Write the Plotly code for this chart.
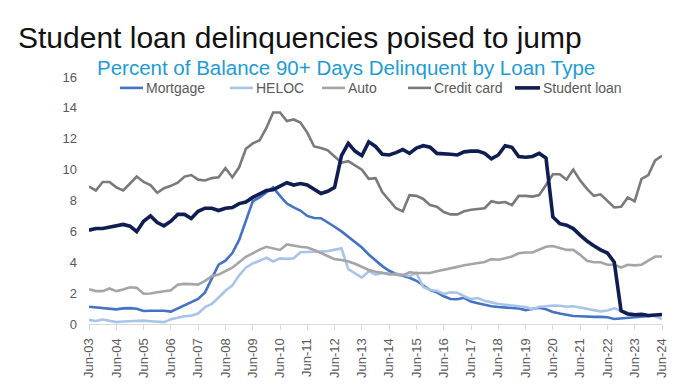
import pandas as pd
import plotly.graph_objects as go

dates = pd.date_range("2003-06-01", "2024-06-01", freq="3MS")

mortgage = [1.12, 1.07, 1.01, 0.97, 0.95, 1.01, 1.03, 0.99, 0.84, 0.86, 0.88, 0.86,
            0.80, 1.00, 1.22, 1.43, 1.63, 2.05, 2.90, 3.85, 4.10, 4.60, 5.45, 6.70,
            7.95, 8.20, 8.50, 8.85, 8.30, 7.80, 7.55, 7.35, 7.00, 6.87, 6.85, 6.60,
            6.30, 6.00, 5.65, 5.35, 4.95, 4.50, 4.10, 3.75, 3.45, 3.25, 3.12, 3.00,
            2.80, 2.50, 2.20, 2.05, 1.80, 1.62, 1.60, 1.70, 1.45, 1.35, 1.25, 1.15,
            1.10, 1.06, 1.05, 1.00, 0.90, 1.00, 1.05, 0.95, 0.78, 0.68, 0.58, 0.52,
            0.50, 0.46, 0.46, 0.46, 0.44, 0.32, 0.36, 0.38, 0.40, 0.44, 0.48, 0.52,
            0.58]
heloc = [0.27, 0.20, 0.29, 0.20, 0.12, 0.16, 0.18, 0.20, 0.22, 0.18, 0.14, 0.12,
         0.31, 0.42, 0.50, 0.54, 0.68, 1.10, 1.30, 1.72, 2.15, 2.50, 3.15, 3.65,
         3.92, 4.10, 4.30, 4.05, 4.25, 4.22, 4.26, 4.65, 4.68, 4.70, 4.70, 4.72,
         4.80, 4.90, 3.55, 3.30, 3.00, 3.42, 3.20, 3.30, 3.20, 3.25, 3.20, 3.10,
         3.30, 2.40, 2.20, 2.15, 1.95, 2.05, 2.02, 1.80, 1.62, 1.68, 1.50, 1.40,
         1.30, 1.25, 1.20, 1.18, 1.10, 0.95, 1.12, 1.15, 1.20, 1.18, 1.12, 1.15,
         1.08, 1.00, 0.90, 0.82, 0.88, 1.02, 0.88, 0.72, 0.65, 0.60, 0.55, 0.50,
         0.32]
auto = [2.25, 2.13, 2.13, 2.30, 2.13, 2.23, 2.38, 2.34, 1.96, 1.98, 2.06, 2.13,
        2.19, 2.55, 2.60, 2.58, 2.55, 2.80, 3.10, 3.20, 3.40, 3.65, 4.00, 4.35,
        4.58, 4.82, 5.00, 4.90, 4.80, 5.15, 5.05, 5.00, 4.95, 4.80, 4.60, 4.40,
        4.20, 4.15, 4.05, 3.90, 3.70, 3.50, 3.38, 3.30, 3.25, 3.20, 3.15, 3.35,
        3.30, 3.30, 3.30, 3.42, 3.50, 3.62, 3.70, 3.80, 3.88, 3.93, 4.02, 4.20,
        4.16, 4.26, 4.37, 4.58, 4.63, 4.63, 4.80, 5.00, 5.05, 4.90, 4.80, 4.80,
        4.48, 4.10, 4.00, 4.00, 3.84, 3.84, 3.66, 3.84, 3.80, 3.84, 4.10, 4.37,
        4.37]
credit_card = [8.90, 8.65, 9.20, 9.20, 8.85, 8.65, 9.10, 9.55, 9.20, 9.00, 8.50, 8.80,
               8.95, 9.15, 9.55, 9.65, 9.35, 9.30, 9.45, 9.50, 10.10, 9.50, 10.15, 11.35,
               11.70, 11.90, 12.70, 13.70, 13.70, 13.15, 13.25, 13.05, 12.40, 11.50, 11.40, 11.25,
               10.85, 10.45, 10.55, 10.25, 10.00, 9.40, 9.45, 8.55, 8.00, 7.50, 7.30, 8.35,
               8.30, 8.10, 7.70, 7.60, 7.25, 7.10, 7.10, 7.30, 7.40, 7.45, 7.50, 7.95,
               7.85, 7.90, 7.70, 8.30, 8.30, 8.25, 8.35, 9.00, 9.70, 9.70, 9.35, 10.00,
               9.30, 8.75, 8.30, 8.40, 8.00, 7.55, 7.60, 8.20, 7.95, 9.40, 9.65, 10.60,
               10.90]
student_loan = [6.08, 6.19, 6.19, 6.27, 6.33, 6.45, 6.34, 5.98, 6.65, 7.00, 6.57, 6.36,
                6.66, 7.10, 7.10, 6.83, 7.30, 7.50, 7.50, 7.35, 7.50, 7.55, 7.80, 7.90,
                8.20, 8.40, 8.65, 8.70, 8.90, 9.15, 9.00, 9.10, 9.00, 8.70, 8.45, 8.60,
                8.85, 10.90, 11.70, 11.20, 10.90, 11.80, 11.50, 11.00, 10.95, 11.10, 11.30, 11.05,
                11.40, 11.55, 11.45, 11.05, 11.05, 11.00, 10.95, 11.15, 11.20, 11.20, 11.05, 10.70,
                10.95, 11.55, 11.45, 10.85, 10.80, 10.85, 11.05, 10.75, 6.93, 6.50, 6.40, 6.18,
                5.76, 5.37, 5.07, 4.80, 4.60, 4.00, 0.85, 0.65, 0.60, 0.62, 0.55, 0.58,
                0.62]

names = ["Mortgage", "HELOC", "Auto", "Credit card", "Student loan"]
values = [mortgage, heloc, auto, credit_card, student_loan]
colors = ["#4472C4", "#A9C4EB", "#A5A5A5", "#7A7A7A", "#0F1D52"]
widths = [2.6, 2.6, 2.6, 2.6, 3.6]

# page geometry (screen px); the page body adds an 8px offset
OFF = 8
W, H = 700 - OFF, 390 - OFF
PL, PR, PT, PB = 89, 662, 77, 326.5   # plot area in screen px


def px_x(px):
    return (px - PL) / (PR - PL)


def px_y(py):
    return (PB - py) / (PB - PT)


font_family = "Liberation Sans, Arial, sans-serif"

fig = go.Figure()
for name, vals, color, w in zip(names, values, colors, widths):
    fig.add_trace(go.Scatter(x=dates, y=vals, mode="lines", name=name,
                             line=dict(color=color, width=w),
                             showlegend=False))

# manual legend (line sample + label) to match reference spacing
legend_starts = [120, 230, 322, 408, 515]
legend_len = [23, 23, 23, 23, 25]
legend_y = 88
shapes = []
annotations = []
for name, color, w, x0, ln in zip(names, colors, widths, legend_starts, legend_len):
    shapes.append(dict(type="line", xref="paper", yref="paper",
                       x0=px_x(x0), x1=px_x(x0 + ln), y0=px_y(legend_y), y1=px_y(legend_y),
                       line=dict(color=color, width=w)))
    annotations.append(dict(text=name, xref="paper", yref="paper",
                            x=px_x(x0 + ln + 1), y=px_y(legend_y),
                            xanchor="left", yanchor="middle", showarrow=False,
                            font=dict(size=14, color="#595959", family=font_family)))

annotations.append(dict(text="Percent of Balance 90+ Days Delinquent by Loan Type",
                        xref="paper", yref="paper", x=px_x(346), y=px_y(67),
                        xanchor="center", yanchor="middle", showarrow=False,
                        font=dict(size=20.5, color="#1E9BD7", family=font_family)))

fig.update_layout(
    width=W, height=H,
    margin=dict(l=PL - OFF, r=700 - PR, t=PT - OFF, b=390 - PB),
    paper_bgcolor="white", plot_bgcolor="white",
    font=dict(family=font_family, color="#595959", size=13),
    title=dict(text="Student loan delinquencies poised to jump",
               x=(18 - OFF) / W, xanchor="left", xref="container",
               y=1 - (37 - OFF) / H, yanchor="middle", yref="container",
               font=dict(size=30, color="#111111", family=font_family)),
    showlegend=False,
    shapes=shapes,
    annotations=annotations,
)
fig.update_xaxes(type="date", range=["2003-06-01", "2024-06-01"],
                 tick0="2003-06-01", dtick="M12", tickformat="%b-%y",
                 tickangle=-90, ticks="outside", ticklen=5, tickcolor="#D9D9D9",
                 ticklabelstandoff=3,
                 showline=True, linecolor="#D9D9D9", linewidth=1,
                 showgrid=False, zeroline=False,
                 tickfont=dict(size=13, color="#595959"))
fig.update_yaxes(range=[0, 16], dtick=2, showgrid=False, zeroline=False,
                 showline=False, ticks="", ticklabelstandoff=11,
                 tickfont=dict(size=13, color="#595959"))

fig.write_html("out.html")
